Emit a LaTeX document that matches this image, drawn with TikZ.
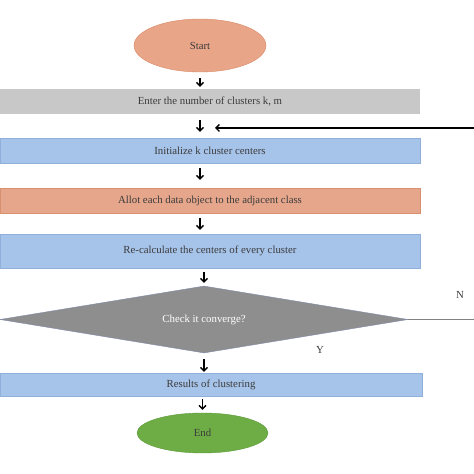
\documentclass[tikz,border=0pt]{standalone}
\usepackage{fontspec}
\setmainfont{Liberation Serif}
\usetikzlibrary{shapes.geometric,arrows.meta}
\definecolor{startred}{HTML}{E9A588}
\definecolor{startedge}{HTML}{D98A66}
\definecolor{inputgray}{HTML}{C8C8C8}
\definecolor{stepblue}{HTML}{A6C3E9}
\definecolor{stepedge}{HTML}{8FB0DA}
\definecolor{allotred}{HTML}{E6A68B}
\definecolor{allotedge}{HTML}{D8906F}
\definecolor{checkgray}{HTML}{8E8E8E}
\definecolor{checkedge}{HTML}{7F8AA8}
\definecolor{endgreen}{HTML}{6EAD46}
\definecolor{endedge}{HTML}{5E9A3A}
\definecolor{txtgray}{HTML}{3C3C3C}
\tikzset{
    every node/.style={font=\fontsize{10.8}{12}\selectfont, text=txtgray},
    stepbox/.style={rectangle, minimum width=420pt, inner sep=0pt},
    flow/.style={-{Straight Barb[length=3.5pt,width=7pt,line width=1.3pt]}, line width=1.3pt, black}
}
\begin{document}
\begin{tikzpicture}[x=1pt,y=1pt]
        \useasboundingbox (0, 0) rectangle (474, 474);

        \node[ellipse, fill=startred, draw=startedge, minimum width=132pt, minimum height=53pt] at (200, 428.5)(start){Start};
        \node[stepbox, fill=inputgray, minimum height=25pt] at (210, 372.5)(enter){Enter the number of clusters k, m};
        \node[stepbox, fill=stepblue, draw=stepedge, minimum height=25pt] at (210, 323.5)(init){Initialize k cluster centers};
        \node[stepbox, fill=allotred, draw=allotedge, minimum height=25pt] at (210, 273.5)(allot){Allot each data object to the adjacent class};
        \node[stepbox, fill=stepblue, draw=stepedge, minimum height=34pt] at (210, 223)(recalc){Re-calculate the centers of every cluster};
        \node[diamond, aspect=6.1, fill=checkgray, draw=checkedge, text=white, minimum width=408pt, minimum height=67pt, inner sep=0pt] at (204, 154.5)(check){Check it converge?};
        \node[stepbox, fill=stepblue, draw=stepedge, minimum width=422pt, minimum height=23pt] at (211, 89.5)(results){Results of clustering};
        \node[ellipse, fill=endgreen, draw=endedge, minimum width=131pt, minimum height=40pt] at (202.5, 41)(end){End};

        \draw[flow, shorten <=6pt, shorten >=2pt] (start.south) to (start.south |- enter.north);
        \draw[flow, shorten <=6pt, shorten >=6pt] (enter.south -| start) to (init.north -| start);
        \draw[flow, shorten <=5pt, shorten >=8pt] (init.south -| start) to (allot.north -| start);
        \draw[flow, shorten <=5pt, shorten >=4pt] (allot.south -| start) to (recalc.north -| start);
        \draw[flow, shorten <=4pt, shorten >=3pt] (recalc.south -| check) to (check.north);
        \draw[flow, shorten <=6pt, shorten >=1pt] (check.south) to (check.south |- results.north);
        \draw[flow, shorten <=3pt, shorten >=3pt] (results.south -| end) to (end.north);

        \coordinate (loopin) at (474, 346);
        \coordinate (loopend) at (215, 346);
        \draw[flow] (loopin) to (loopend);

        \coordinate (loopout) at (474, 154.5);
        \draw[line width=0.8pt, gray] (check.east) to (loopout);

        \node at (460, 179)(no){N};
        \node at (320, 124)(yes){Y};
    \end{tikzpicture}
\end{document}
